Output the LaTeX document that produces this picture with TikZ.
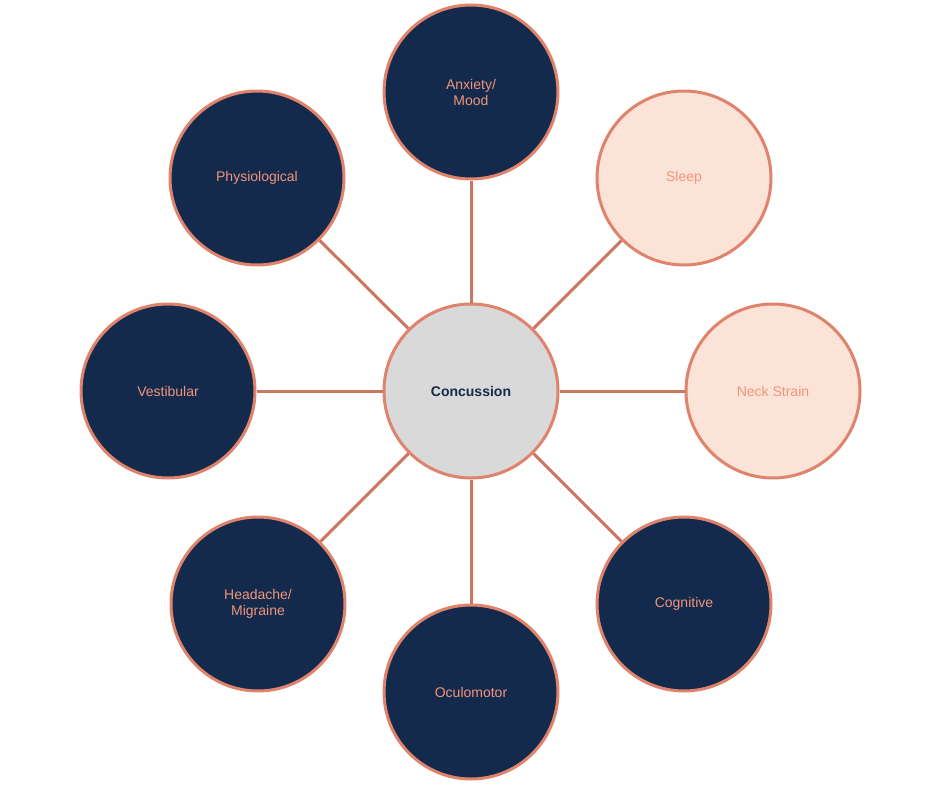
\documentclass[tikz,border=0pt]{standalone}
\usepackage{fontspec}
\setmainfont{Liberation Sans}
\definecolor{navy}{HTML}{132A4C}
\definecolor{salm}{HTML}{E0836C}
\definecolor{txt}{HTML}{F2947C}
\definecolor{peach}{HTML}{FBE3D7}
\definecolor{gry}{HTML}{D9D9D9}
\begin{document}
\begin{tikzpicture}[x=1pt,y=-1pt,
  bub/.style={circle,draw=salm,line width=3pt,minimum size=174pt,inner sep=0pt,align=center,font=\fontsize{14}{16}\selectfont},
  dark/.style={bub,fill=navy,text=txt},
  light/.style={bub,fill=peach,text=txt},
  conn/.style={draw=salm!90!black,line width=3pt}]
\path[use as bounding box] (0,0) rectangle (943,787);
\node[bub,fill=gry,text=navy,font=\bfseries\fontsize{14}{16}\selectfont] (c) at (471,391) {Concussion};
\node[dark] (a) at (471,92) {Anxiety/\\Mood};
\node[light] (s) at (684,178) {Sleep};
\node[light] (n) at (773,391) {Neck Strain};
\node[dark] (g) at (684,604) {Cognitive};
\node[dark] (o) at (471,692) {Oculomotor};
\node[dark] (h) at (258,604) {Headache/\\Migraine};
\node[dark] (v) at (168,391) {Vestibular};
\node[dark] (p) at (257,178) {Physiological};
\foreach \x in {a,s,n,g,o,h,v,p} \draw[conn] (c) -- (\x);
\end{tikzpicture}
\end{document}
